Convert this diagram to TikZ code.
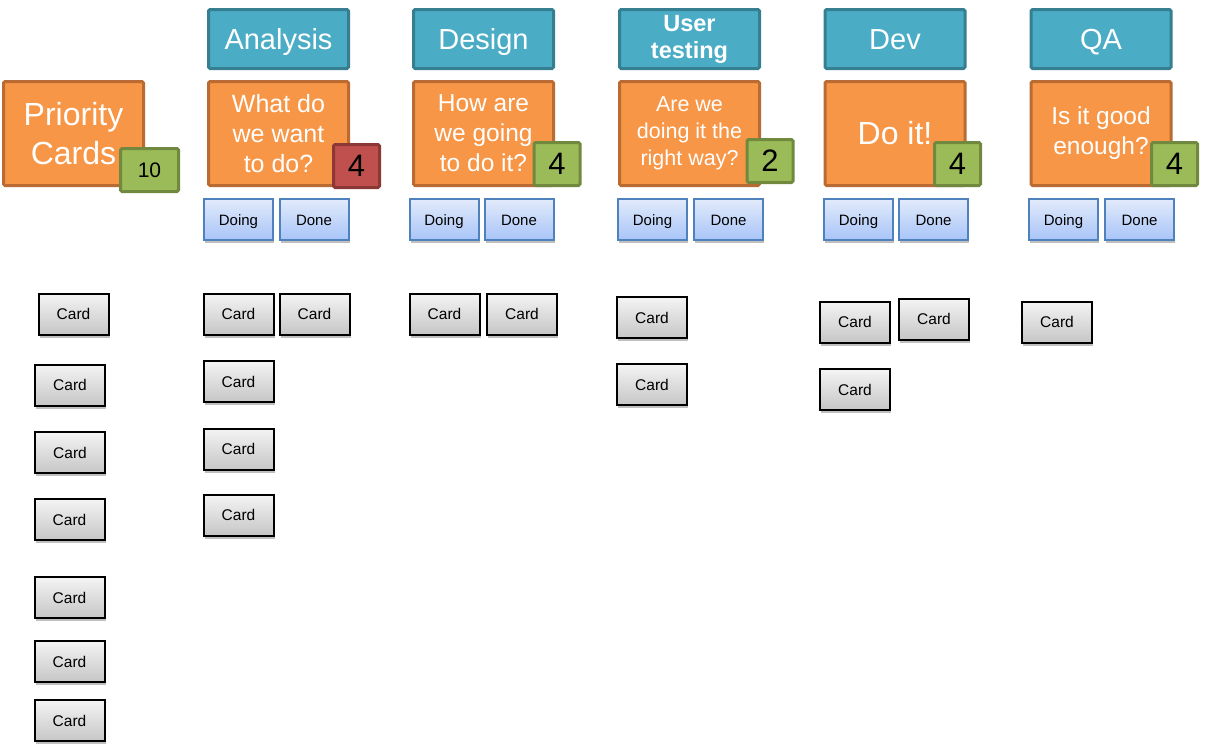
\documentclass[tikz,border=0pt]{standalone}
\usepackage{fontspec}
\setmainfont{Liberation Sans}
\usetikzlibrary{shadows}
\definecolor{tealF}{HTML}{4BACC6}
\definecolor{tealD}{HTML}{357F91}
\definecolor{orF}{HTML}{F79646}
\definecolor{orD}{HTML}{B96B33}
\definecolor{grF}{HTML}{9BBB59}
\definecolor{grD}{HTML}{71893F}
\definecolor{rdF}{HTML}{C0504D}
\definecolor{rdD}{HTML}{8C3836}
\definecolor{blD}{HTML}{4F81BD}
\definecolor{blT}{HTML}{E2EBFB}
\definecolor{blB}{HTML}{A8C4F8}
\definecolor{cdT}{HTML}{F4F4F4}
\definecolor{cdB}{HTML}{C6C6C6}
\tikzset{
  hdr/.style={rectangle, fill=tealF, draw=tealD, line width=3pt, rounded corners=1.5pt,
    minimum width=140pt, minimum height=59pt, text=white, inner sep=0pt,
    text height=21pt, text depth=0pt,
    font=\fontsize{29}{30}\selectfont},
  qbox/.style={rectangle, fill=orF, draw=orD, line width=3pt, rounded corners=1.5pt,
    minimum width=140pt, minimum height=104pt, text=white, inner sep=0pt, align=center,
    font=\fontsize{25}{30}\selectfont},
  badge/.style={rectangle, fill=grF, draw=grD, line width=3pt, rounded corners=1.5pt,
    minimum width=46pt, minimum height=43pt, inner sep=0pt, text=black,
    font=\fontsize{31}{31}\selectfont},
  redbadge/.style={badge, fill=rdF, draw=rdD},
  dd/.style={rectangle, top color=blT, bottom color=blB, draw=blD, line width=2pt,
    minimum width=69pt, minimum height=41pt, inner sep=0pt,
    text height=11pt, text depth=0pt,
    font=\fontsize{15}{15}\selectfont,
    drop shadow={shadow xshift=1pt, shadow yshift=-3pt, opacity=0.25, fill=black}},
  card/.style={rectangle, top color=cdT, bottom color=cdB, draw=black, line width=2pt,
    minimum width=70pt, minimum height=41pt, inner sep=0pt,
    font=\fontsize{15.5}{15.5}\selectfont,
    drop shadow={shadow xshift=1pt, shadow yshift=-3pt, opacity=0.25, fill=black}},
}
\begin{document}
\begin{tikzpicture}[x=1pt,y=-1pt]
\useasboundingbox (0,0) rectangle (1209,753);
% headers
\node[hdr] (hA) at (278.5,39) {Analysis};
\node[hdr] (hD) at (483.5,39) {Design};
\node[rectangle, fill=tealF, draw=tealD, line width=3pt, rounded corners=1.5pt,
    minimum width=140pt, minimum height=59pt, text=white, inner sep=0pt,
    align=center, font=\bfseries\fontsize{23.5}{27}\selectfont] (hU) at (689.5,39) {User\\testing};
\node[hdr] (hV) at (895,39) {Dev};
\node[hdr] (hQ) at (1101,39) {QA};
% question boxes
\node[qbox, font=\fontsize{32}{39}\selectfont] (qP) at (73.5,133.5) {Priority\\Cards};
\node[qbox] (qA) at (278.5,133.5) {What do\\we want\\to do?};
\node[qbox, font=\fontsize{24.5}{30}\selectfont] (qD) at (483.5,133.5) {How are\\we going\\to do it?};
\node[qbox, font=\fontsize{21.5}{27}\selectfont] (qU) at (689.5,133.5) {Are we\\doing it the\\right way?};
\node[qbox, font=\fontsize{32}{32}\selectfont] (qV) at (895,133.5) {Do it!};
\node[qbox, font=\fontsize{24.5}{30}\selectfont] (qQ) at (1101,133.5) {Is it good\\enough?};
% badges
\node[badge, minimum width=58pt, font=\fontsize{21}{21}\selectfont] (bP) at (149.5,170) {10};
\node[redbadge] (bA) at (356.5,166) {4};
\node[badge] (bD) at (557,164) {4};
\node[badge] (bU) at (770,161) {2};
\node[badge] (bV) at (957.5,164) {4};
\node[badge] (bQ) at (1174.5,164) {4};
% doing / done
\node[dd] (gA) at (238.5,219.5) {Doing};
\node[dd] (nA) at (314,219.5) {Done};
\node[dd] (gD) at (444,219.5) {Doing};
\node[dd] (nD) at (519,219.5) {Done};
\node[dd] (gU) at (652.5,219.5) {Doing};
\node[dd] (nU) at (728.5,219.5) {Done};
\node[dd] (gV) at (858.5,219.5) {Doing};
\node[dd] (nV) at (933.5,219.5) {Done};
\node[dd] (gQ) at (1063.5,219.5) {Doing};
\node[dd] (nQ) at (1139.5,219.5) {Done};
% cards: priority column
\node[card] (c1) at (73.5,314) {Card};
\node[card] (c2) at (70,385) {Card};
\node[card] (c3) at (70,452.5) {Card};
\node[card] (c4) at (69.5,519.5) {Card};
\node[card] (c5) at (69.5,597.5) {Card};
\node[card] (c6) at (69.5,661.5) {Card};
\node[card] (c7) at (69.5,720.5) {Card};
% analysis
\node[card] (a1) at (238.5,314) {Card};
\node[card] (a2) at (314.5,314) {Card};
\node[card] (a3) at (238.5,381.5) {Card};
\node[card] (a4) at (238.5,449) {Card};
\node[card] (a5) at (238.5,515) {Card};
% design
\node[card] (d1) at (444.5,314) {Card};
\node[card] (d2) at (522,314) {Card};
% user testing
\node[card] (u1) at (652,317.5) {Card};
\node[card] (u2) at (652,384.5) {Card};
% dev
\node[card] (v1) at (855,322) {Card};
\node[card] (v2) at (934,319) {Card};
\node[card] (v3) at (855,389.5) {Card};
% qa
\node[card] (q1) at (1057,322) {Card};
\end{tikzpicture}
\end{document}
